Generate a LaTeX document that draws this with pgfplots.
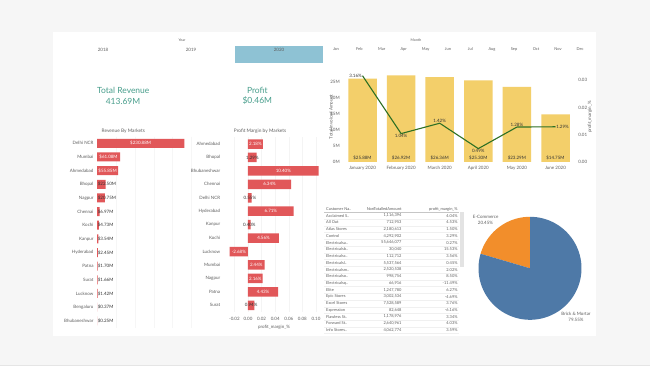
\documentclass[border=0pt]{standalone}
\usepackage{fontspec}
\setmainfont{Lato}
\usepackage{pgfplots}
\pgfplotsset{compat=1.18}
\definecolor{tred}{RGB}{225,87,89}
\definecolor{tyellow}{RGB}{243,207,106}
\definecolor{tblue}{RGB}{78,121,167}
\definecolor{torange}{RGB}{242,142,43}
\definecolor{tgreen}{RGB}{46,112,36}
\definecolor{kpiteal}{RGB}{72,158,140}
\definecolor{txt}{RGB}{95,95,95}
\definecolor{slicer}{RGB}{142,194,212}
\definecolor{bgc}{RGB}{246,246,246}
\newcommand{\fs}[1]{\fontsize{#1}{#1}\selectfont}
\pgfplotsset{
  dash/.style={scale only axis, anchor=south west, axis line style={draw=none}, major tick length=0,
    tick label style={font=\fs{4.5}, text=txt}, /pgf/number format/assume math mode=true, clip=false},
  lbl/.style={draw=none, mark=none, nodes near coords, point meta=explicit symbolic,
    every node near coord/.append style={font=\fs{4.5}, inner sep=0.6bp}}
}
\begin{document}
\begin{tikzpicture}
\tikzset{t/.style={font=\fs{4.5}, text=txt, inner sep=0}}
\path[use as bounding box] (0,0) rectangle (650bp,366bp);
\fill[bgc] (0,0) rectangle (650bp,366bp);
\fill[white] (53bp,30bp) rectangle (596bp,334bp);
\draw[gray!20] (0,0.4bp) -- (650bp,0.4bp);

% Year slicer
\node[t, font=\fs{3.6}] at (182bp,326bp) {Year};
\node[t] at (103bp,316bp) {2018};
\node[t] at (191bp,316bp) {2019};
\fill[slicer] (235bp,302.7bp) rectangle (323.3bp,320bp);
\node[t] at (279bp,316bp) {2020};

% Month slicer
\node[t, font=\fs{3.6}] at (416bp,326bp) {Month};
\foreach \m/\x in {Jan/336,Feb/359.3,Mar/381.7,Apr/403.7,May/425.7,Jun/448,Jul/470.3,Aug/492,Sep/514,Oct/536,Nov/558,Dec/580}
  \node[t, font=\fs{4}] at (\x bp,317bp) {\m};

% KPIs
\node[text=kpiteal, font=\fs{8.5}] at (123.3bp,276bp) {Total Revenue};
\node[text=kpiteal, font=\fs{8.5}] at (123bp,265bp) {413.69M};
\node[text=kpiteal, font=\fs{8.5}] at (257.3bp,276bp) {Profit};
\node[text=kpiteal, font=\fs{8.5}] at (257.3bp,265bp) {\$0.46M};

% Revenue by markets
\node[t, font=\fs{4.8}] at (123.3bp,235.3bp) {Revenue By Markets};
\begin{axis}[dash, at={(97bp,38.4bp)}, width=100bp, height=191.1bp,
  xmin=0, xmax=264.5, ymin=-0.5, ymax=13.5, y dir=reverse,
  ytick={0,...,13},
  yticklabels={Delhi NCR,Mumbai,Ahmedabad,Bhopal,Nagpur,Chennai,Kochi,Kanpur,Hyderabad,Patna,Surat,Lucknow,Bengaluru,Bhubaneshwar},
  xtick={50,100,150,200,250}, xticklabels={}, xmajorgrids, grid style={gray!7}]
\addplot[xbar, bar width=9bp, fill=tred, draw=none] coordinates {
 (230.88,0) (61.08,1) (55.85,2) (22.50,3) (20.75,4) (6.97,5) (4.73,6)
 (3.54,7) (2.45,8) (1.70,9) (1.66,10) (1.42,11) (0.37,12) (0.25,13)};
\addplot[lbl, every node near coord/.append style={anchor=center, text=white}] coordinates {
 (115.44,0) [\$230.88M] (30.54,1) [\$61.08M] (27.93,2) [\$55.85M]};
\addplot[lbl, every node near coord/.append style={anchor=west, text=black!80}] coordinates {
 (0,3) [\$22.50M] (0,4) [\$20.75M] (0,5) [\$6.97M] (0,6) [\$4.73M] (0,7) [\$3.54M]
 (0,8) [\$2.45M] (0,9) [\$1.70M] (0,10) [\$1.66M] (0,11) [\$1.42M] (0,12) [\$0.37M] (0,13) [\$0.25M]};
\end{axis}

% Profit margin by markets
\node[t, font=\fs{4.8}] at (260bp,235.3bp) {Profit Margin by Markets};
\begin{axis}[dash, at={(226.2bp,54bp)}, width=96.6bp, height=174.7bp,
  xmin=-0.032, xmax=0.11, ymin=-0.5, ymax=12.5, y dir=reverse,
  ytick={0,...,12},
  yticklabels={Ahmedabad,Bhopal,Bhubaneshwar,Chennai,Delhi NCR,Hyderabad,Kanpur,Kochi,Lucknow,Mumbai,Nagpur,Patna,Surat},
  yticklabel style={xshift=-2.5bp},
  xtick={-0.02,0,0.02,0.04,0.06,0.08,0.10},
  xticklabel style={yshift=-1.5bp, /pgf/number format/.cd, fixed, fixed zerofill, precision=2},
  scaled x ticks=false, xmajorgrids, grid style={gray!9}]
\addplot[xbar, bar width=9.5bp, fill=tred, draw=none] coordinates {
 (0.0218,0) (0.0129,1) (0.1040,2) (0.0634,3) (0.0055,4) (0.0671,5) (0.0040,6)
 (0.0456,7) (-0.0268,8) (0.0244,9) (0.0216,10) (0.0443,11) (0.0094,12)};
\addplot[lbl, every node near coord/.append style={anchor=center, text=white}] coordinates {
 (0.0109,0) [2.18\%] (0.0520,2) [10.40\%] (0.0317,3) [6.34\%] (0.0336,5) [6.71\%]
 (0.0228,7) [4.56\%] (-0.0134,8) [-2.68\%] (0.0122,9) [2.44\%] (0.0108,10) [2.16\%] (0.0222,11) [4.43\%]};
\addplot[lbl, every node near coord/.append style={anchor=center, text=black!80}] coordinates {
 (0.0065,1) [1.29\%] (0.0028,4) [0.55\%] (0.0020,6) [0.40\%] (0.0047,12) [0.94\%]};
\end{axis}
\node[t] at (274bp,39bp) {profit\_margin\_\%};

% Monthly revenue and profit margin
\node[t, rotate=90] at (331bp,249bp) {Total Invoiced Amount};
\begin{axis}[dash, at={(343.2bp,204bp)}, width=231.6bp, height=90.2bp,
  xmin=-0.5, xmax=5.5, ymin=0, ymax=28,
  xtick={0,...,5},
  xticklabels={January 2020,February 2020,March 2020,April 2020,May 2020,June 2020},
  xticklabel style={yshift=-1bp},
  ytick={0,5,10,15,20,25}, yticklabels={0M,5M,10M,15M,20M,25M}]
\addplot[ybar, bar width=28.5bp, fill=tyellow, draw=none] coordinates {
 (0,25.88) (1,26.92) (2,26.36) (3,25.30) (4,23.29) (5,14.75)};
\addplot[lbl, every node near coord/.append style={anchor=center, text=black!80}] coordinates {
 (0,1.15) [\$25.88M] (1,1.15) [\$26.92M] (2,1.15) [\$26.36M] (3,1.15) [\$25.30M] (4,1.15) [\$23.29M] (5,1.15) [\$14.75M]};
\end{axis}
\begin{axis}[dash, at={(343.2bp,204bp)}, width=231.6bp, height=90.2bp,
  xmin=-0.5, xmax=5.5, ymin=0, ymax=0.03304, xtick=\empty,
  axis y line*=right,
  ytick={0,0.01,0.02,0.03},
  yticklabel style={/pgf/number format/.cd, fixed, fixed zerofill, precision=2},
  scaled y ticks=false]
\addplot[tgreen, line width=1.1bp, mark=none] coordinates {
 (0,0.0316) (1,0.0104) (2,0.0142) (3,0.0049) (4,0.0128) (5,0.0129)};
\addplot[lbl, every node near coord/.append style={anchor=east, text=black!80}] coordinates {(0,0.0316) [3.16\%]};
\addplot[lbl, every node near coord/.append style={anchor=north, text=black!80}] coordinates {(1,0.0104) [1.04\%] (3,0.0049) [0.49\%]};
\addplot[lbl, every node near coord/.append style={anchor=south, text=black!80}] coordinates {(2,0.0142) [1.42\%] (4,0.0128) [1.28\%]};
\addplot[lbl, every node near coord/.append style={anchor=west, text=black!80}] coordinates {(5,0.0129) [1.29\%]};
\end{axis}
\node[t, rotate=90] at (590bp,249bp) {profit\_margin\_\%};

% Table
\fill[gray!22] (459.5bp,99bp) rectangle (463.5bp,154bp);
\draw[gray!45, line width=0.3bp] (324bp,154.2bp) -- (459bp,154.2bp);
\node[t, font=\fs{4}, anchor=west] at (326bp,157bp) {Customer Na..};
\node[t, font=\fs{4}, anchor=east] at (401.7bp,157bp) {NonTotalledAmount};
\node[t, font=\fs{4}, anchor=east] at (457.7bp,157bp) {profit\_margin\_\%};
\foreach [count=\i] \a/\b/\c in {
 Acclaimed S../{1,116,394}/4.04\%, All Out/{712,953}/4.53\%, Atlas Stores/{2,180,613}/1.50\%,
 Control/{4,292,902}/3.29\%, Electricalsa../{55,646,077}/0.27\%, Electricalsb../{30,040}/15.53\%,
 Electricalsc../{112,712}/3.56\%, Electricalsl../{5,537,564}/0.45\%, Electricalsm../{2,520,538}/2.02\%,
 Electricalso../{998,754}/8.50\%, Electricalsq../{66,916}/-11.49\%, Elite/{1,247,780}/6.27\%,
 Epic Stores/{3,002,534}/-4.69\%, Excel Stores/{7,528,589}/3.76\%, Expression/{82,648}/-6.16\%,
 Flawless St../{1,178,976}/3.34\%, Forward St../{2,640,961}/4.03\%, Info Stores../{4,062,774}/3.59\%}{
  \pgfmathsetmacro{\yy}{366-215.7-(\i-1)*6.74}
  \node[t, font=\fs{4}, anchor=west] at (326bp,\yy bp) {\a};
  \node[t, font=\fs{4}, anchor=east] at (401.7bp,\yy bp) {\b};
  \node[t, font=\fs{4}, anchor=east] at (457.7bp,\yy bp) {\c};
  \draw[gray!12, line width=0.3bp] (324bp,\yy bp-3.37bp) -- (459bp,\yy bp-3.37bp);
}

% Pie
\begin{axis}[scale only axis, width=103bp, height=103bp, at={(530bp,97.7bp)}, anchor=center,
  xmin=-1, xmax=1, ymin=-1, ymax=1, hide axis, clip=false]
\addplot[fill=torange, draw=none, domain=90:163.62, samples=40, variable=\t]
  ({cos(\t)},{sin(\t)}) -- (axis cs:0,0) -- cycle;
\addplot[fill=tblue, draw=none, domain=163.62:450, samples=120, variable=\t]
  ({cos(\t)},{sin(\t)}) -- (axis cs:0,0) -- cycle;
\end{axis}
\node[t] at (485.7bp,148.7bp) {E-Commerce};
\node[t] at (485.5bp,142.7bp) {20.45\%};
\node[t] at (576bp,52bp) {Brick \& Mortar};
\node[t] at (576bp,45.7bp) {79.55\%};
\end{tikzpicture}
\end{document}
